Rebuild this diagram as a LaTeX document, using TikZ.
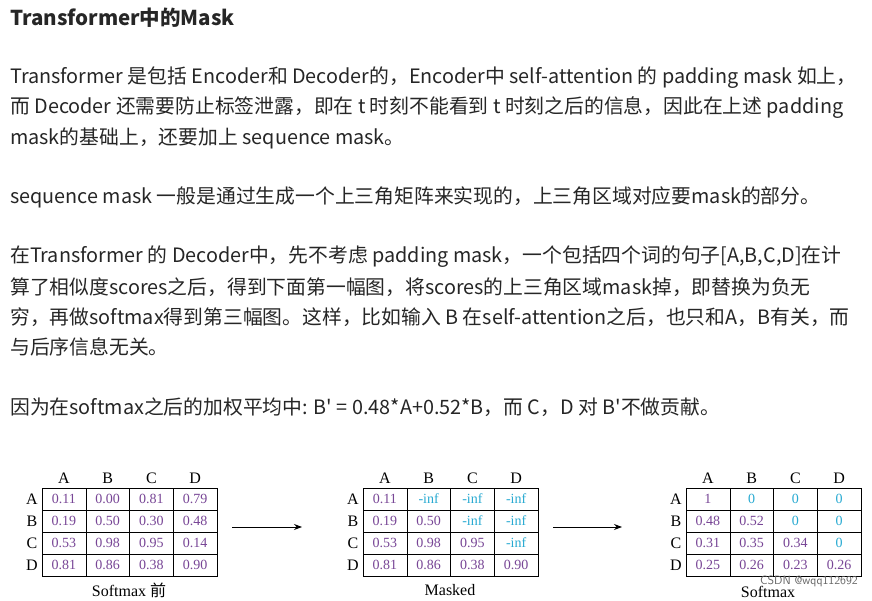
\documentclass[tikz,border=0pt]{standalone}
\usepackage{fontspec}
\setmainfont{Liberation Serif}
\newfontfamily\cjk{Noto Sans CJK SC}
\usetikzlibrary{arrows.meta}
\definecolor{pur}{RGB}{120,70,150}
\definecolor{cy}{RGB}{40,170,210}
\tikzset{txt/.style={anchor=west,inner sep=0,font=\cjk\fontsize{19.8}{22}\selectfont,text=black!85},
 cell/.style={draw,minimum width=43.75pt,minimum height=22pt,inner sep=0,font=\fontsize{14}{15}\selectfont,text=pur},
 hd/.style={font=\fontsize{16}{17}\selectfont},
 arr/.style={-{Stealth[length=8pt]},line width=1pt}}
\begin{document}
\begin{tikzpicture}[x=1pt,y=-1pt]
\useasboundingbox[fill=white] (0,0) rectangle (872,601);
\node[txt,font=\cjk\bfseries\fontsize{20.5}{22}\selectfont] (t) at (10,18) {Transformer中的Mask};
\node[txt] (l1) at (10,78) {Transformer 是包括 Encoder和 Decoder的，Encoder中 self-attention 的 padding mask 如上，};
\node[txt] (l2) at (10,108) {而 Decoder 还需要防止标签泄露，即在 t 时刻不能看到 t 时刻之后的信息，因此在上述 padding};
\node[txt] (l3) at (10,138) {mask的基础上，还要加上 sequence mask。};
\node[txt] (l4) at (10,197) {sequence mask 一般是通过生成一个上三角矩阵来实现的，上三角区域对应要mask的部分。};
\node[txt] (l5) at (10,257) {在Transformer 的 Decoder中，先不考虑 padding mask，一个包括四个词的句子[A,B,C,D]在计};
\node[txt] (l6) at (10,287) {算了相似度scores之后，得到下面第一幅图，将scores的上三角区域mask掉，即替换为负无};
\node[txt] (l7) at (10,317) {穷，再做softmax得到第三幅图。这样，比如输入 B 在self-attention之后，也只和A，B有关，而};
\node[txt] (l8) at (10,347) {与后序信息无关。};
\node[txt] (l9) at (10,407) {因为在softmax之后的加权平均中: B' = 0.48*A+0.52*B，而 C，D 对 B'不做贡献。};
% matrices
\foreach \m/\x in {1/42,2/363,3/686}{
  \foreach \c [count=\i from 0] in {A,B,C,D}{
    \node[hd] (h\m\c) at (\x+21.9+43.75*\i,478) {\c};
    \node[hd] (r\m\c) at (\x-10,499+22*\i) {\c};
  }
  \draw[line width=1pt] (\x,488) rectangle (\x+175,576);
}
\newcommand\mrow[4]{%
 \foreach \v [count=\i from 0] in {#4}{
   \node[cell] (c#1#2\i) at (#3+21.875+43.75*\i,499+22*#2) {\v};}}
\mrow{1}{0}{42}{0.11,0.00,0.81,0.79}
\mrow{1}{1}{42}{0.19,0.50,0.30,0.48}
\mrow{1}{2}{42}{0.53,0.98,0.95,0.14}
\mrow{1}{3}{42}{0.81,0.86,0.38,0.90}
\mrow{2}{0}{363}{0.11,\textcolor{cy}{-inf},\textcolor{cy}{-inf},\textcolor{cy}{-inf}}
\mrow{2}{1}{363}{0.19,0.50,\textcolor{cy}{-inf},\textcolor{cy}{-inf}}
\mrow{2}{2}{363}{0.53,0.98,0.95,\textcolor{cy}{-inf}}
\mrow{2}{3}{363}{0.81,0.86,0.38,0.90}
\mrow{3}{0}{686}{1,\textcolor{cy}{0},\textcolor{cy}{0},\textcolor{cy}{0}}
\mrow{3}{1}{686}{0.48,0.52,\textcolor{cy}{0},\textcolor{cy}{0}}
\mrow{3}{2}{686}{0.31,0.35,0.34,\textcolor{cy}{0}}
\mrow{3}{3}{686}{0.25,0.26,0.23,0.26}
\coordinate (a1s) at (232,527); \coordinate (a1e) at (302,527);
\coordinate (a2s) at (553,527); \coordinate (a2e) at (622,527);
\draw[arr] (a1s) -- (a1e);
\draw[arr] (a2s) -- (a2e);
\node[hd] (cap1) at (129,590) {Softmax {\cjk 前}};
\node[hd] (cap2) at (450,590) {Masked};
\node[hd] (cap3) at (768,592) {Softmax};
\node[font=\sffamily\fontsize{12}{13}\selectfont,text=black!60,anchor=east,inner sep=0] (wm) at (858,581) {CSDN @wqq112692};
\end{tikzpicture}
\end{document}
